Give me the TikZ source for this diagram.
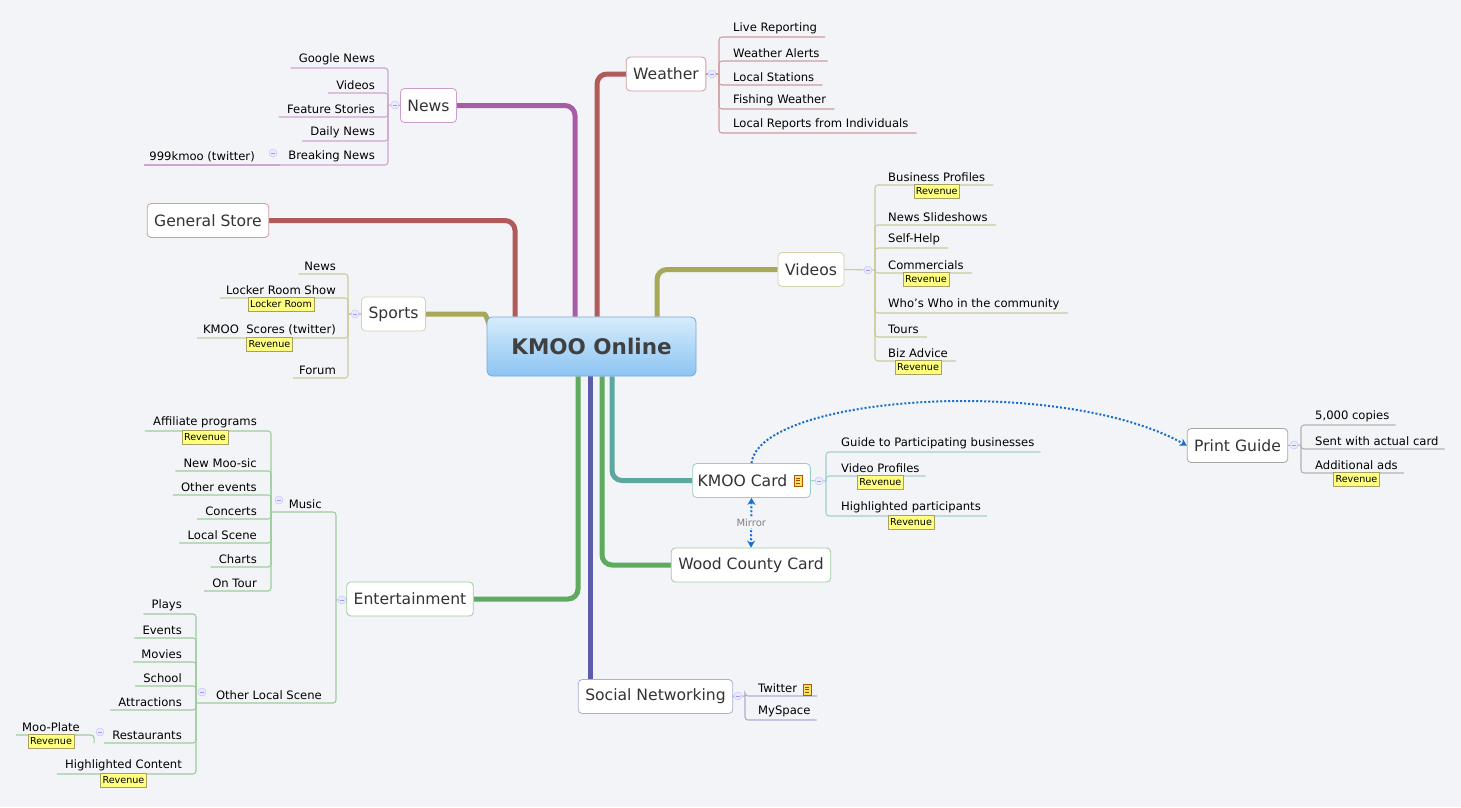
\documentclass[tikz,border=0pt]{standalone}
\usepackage{fontspec}
\setmainfont{DejaVu Sans}
\usetikzlibrary{arrows.meta,positioning,calc}

\definecolor{paper}{HTML}{F3F4F8}
\definecolor{newsc}{HTML}{A85CA8}
\definecolor{wthc}{HTML}{B05A5A}
\definecolor{olvc}{HTML}{A8A858}
\definecolor{cardc}{HTML}{5CA8A0}
\definecolor{grnc}{HTML}{5EAA5E}
\definecolor{socc}{HTML}{5C5CAA}
\definecolor{revfill}{HTML}{FFFF80}
\definecolor{revdraw}{HTML}{A8A060}
\definecolor{mirc}{HTML}{1670CC}
\definecolor{ctop}{HTML}{D6ECFC}
\definecolor{cbot}{HTML}{8CC4F2}
\definecolor{cline}{HTML}{78A8D8}

\newcommand{\itemfont}{\fontsize{11.6}{13}\selectfont}
\newcommand{\topicfont}{\fontsize{15.6}{18}\selectfont}

\pgfdeclarelayer{back}
\pgfdeclarelayer{links}
\pgfsetlayers{back,links,main}

\tikzset{
  topic/.style={draw=#1, fill=white, rounded corners=4pt, line width=0.8pt,
    font=\topicfont, text=black!80, minimum height=34pt, inner xsep=7pt},
  branch/.style={draw=#1, line width=5pt, rounded corners=10pt},
  sub/.style={draw=#1, line width=1.1pt, rounded corners=3pt},
  itr/.style={font=\itemfont, inner xsep=0pt, inner ysep=3pt, anchor=south west},
  itl/.style={font=\itemfont, inner xsep=0pt, inner ysep=3pt, anchor=south east},
  rev/.style={fill=revfill, draw=revdraw, line width=0.5pt, font=\fontsize{9.6}{10}\selectfont,
    inner xsep=2pt, inner ysep=1.5pt, minimum height=14pt, anchor=north},
  fold/.style={circle, draw=blue!25, fill=blue!8, minimum size=8pt, inner sep=0pt,
    path picture={\draw[blue!40, line width=0.6pt]
      ([xshift=-2pt]path picture bounding box.center) -- ([xshift=2pt]path picture bounding box.center);}},
  note/.style={draw=orange!70!black, fill=yellow!70!orange!60, minimum width=8pt,
    minimum height=11pt, inner sep=0pt,
    path picture={\foreach \k in {-2.5,0,2.5}
      \draw[orange!60!black, line width=0.4pt]
      ([xshift=-2pt,yshift=\k pt]path picture bounding box.center) -- ++(4pt,0);}},
  mir/.style={draw=mirc, line width=2pt, dotted, -{Stealth[length=7pt,width=8pt]}}
}

\begin{document}
\begin{tikzpicture}[x=1pt, y=-1pt]

\begin{pgfonlayer}{back}
  \fill[paper] (0,0) rectangle (1461,807);
\end{pgfonlayer}
\useasboundingbox (0,0) rectangle (1461,807);

% central topic
\node[draw=cline, rounded corners=5pt, line width=0.8pt,
  top color=ctop, bottom color=cbot, minimum width=209pt, minimum height=59pt,
  font=\fontsize{21.5}{25}\selectfont\bfseries, text=black!75] (kmoo) at (591.5,346.5) {KMOO Online};

% main topics
\node[topic=newsc!60] (news) at (428.5,105.5) {News};
\node[topic=wthc!60] (wth) at (666,74) {Weather};
\node[topic=wthc!60] (store) at (208,220.5) {General Store};
\node[topic=olvc!50] (sports) at (393.5,314) {Sports};
\node[topic=olvc!50] (videos) at (811,269.5) {Videos};
\node[topic=cardc!60, inner xsep=5pt] (card) at (751.5,480.5) {KMOO Card\hspace*{18pt}};
\node[topic=grnc!60] (wood) at (751,565) {Wood County Card};
\node[topic=grnc!60] (ent) at (410,599) {Entertainment};
\node[topic=socc!50] (social) at (655.5,696.5) {Social Networking};
\node[topic=black!35] (print) at (1237.5,445.5) {Print Guide};
\node[note] (n1) at ([xshift=-13pt]card.east) {};

% branches to the centre
\begin{pgfonlayer}{links}
  \draw[branch=newsc] (news.east) -| ([xshift=-16.5pt]kmoo.north);
  \draw[branch=wthc] (wth.west) -| ([xshift=5.5pt]kmoo.north);
  \draw[branch=wthc] (store.east) -| ([xshift=-76.5pt]kmoo.north);
  \draw[branch=olvc] (sports.east) -- (474,314) to[out=0,in=110] (494,340);
  \draw[branch=olvc] (videos.west) -| ([xshift=65.5pt]kmoo.north);
  \draw[branch=cardc] (card.west) -| ([xshift=20.5pt]kmoo.south);
  \draw[branch=grnc] (wood.west) -| ([xshift=10.5pt]kmoo.south);
  \draw[branch=grnc] (ent.east) -| ([xshift=-13.5pt]kmoo.south);
  \draw[branch=socc] ([xshift=-65.5pt]social.north) -- ([xshift=-1.5pt]kmoo.south);
\end{pgfonlayer}

% News
\coordinate (nh) at (388,105);
\draw[sub=newsc!55] (news.west) -- (nh);
\foreach \n/\y/\t in {1/68/Google News, 2/93/Videos, 3/117/Feature Stories, 4/141/Daily News, 5/165/Breaking News}{
  \node[itl] (ns\n) at (375,\y) {\t};
  \draw[sub=newsc!55] (nh) |- ([xshift=-8pt]ns\n.south west);
}
\node[itl] (tw1) at (255,165) {999kmoo (twitter)};
\draw[sub=newsc!55] ([xshift=-8pt]ns5.south west) -- ([xshift=-5pt]tw1.south west);
\node[fold] (f1) at (395,105) {};
\node[fold] (f2) at (273,153) {};

% Weather
\coordinate (wh) at (719,74);
\draw[sub=wthc!60] (wth.east) -- (wh);
\foreach \n/\y/\t in {1/37/Live Reporting, 2/61/Weather Alerts, 3/85/Local Stations, 4/109/Fishing Weather, 5/133/Local Reports from Individuals}{
  \node[itr] (ws\n) at (733,\y) {\t};
  \draw[sub=wthc!60] (wh) |- ([xshift=8pt]ws\n.south east);
}
\node[fold] (f3) at (712,74) {};

% Videos
\coordinate (vh) at (875,270);
\draw[sub=olvc!60] (videos.east) -- (vh);
\foreach \n/\y/\t in {1/185/Business Profiles, 2/225/News Slideshows, 3/248/Self-Help, 4/273/Commercials, 5/313/Who's Who in the community, 6/337/Tours, 7/361/Biz Advice}{
  \node[itr] (vs\n) at (888,\y) {\t};
  \draw[sub=olvc!60] (vh) |- ([xshift=8pt]vs\n.south east);
}
\node[rev] (r1) at ([yshift=1pt]vs1.south) {Revenue};
\node[rev] (r2) at ([yshift=1pt]vs4.south) {Revenue};
\node[rev] (r3) at ([yshift=1pt]vs7.south) {Revenue};
\node[fold] (f4) at (868,270) {};

% Sports
\coordinate (sh) at (348,314);
\draw[sub=olvc!60] (sports.west) -- (sh);
\foreach \n/\y/\t in {1/274/News, 2/298/Locker Room Show, 3/338/KMOO\ \ Scores (twitter), 4/378/Forum}{
  \node[itl] (ss\n) at (336,\y) {\t};
  \draw[sub=olvc!60] (sh) |- ([xshift=-6pt]ss\n.south west);
}
\node[rev] (r4) at ([yshift=1pt]ss2.south) {Locker Room};
\node[rev] (r5) at ([yshift=1pt]ss3.south) {Revenue};
\node[fold] (f5) at (355,314) {};

% Entertainment
\coordinate (eh) at (336,600);
\coordinate (mh) at (271,512);
\coordinate (oh) at (196,703);
\draw[sub=grnc!60] (ent.west) -- (eh);
\node[itl] (mus) at (322,512) {Music};
\node[itl] (ols) at (322,703) {Other Local Scene};
\draw[sub=grnc!60] (eh) |- (mh);
\draw[sub=grnc!60] (eh) |- (oh);
\foreach \n/\y/\t in {1/431/Affiliate programs, 2/471/New Moo-sic, 3/495/Other events, 4/519/Concerts, 5/543/Local Scene, 6/567/Charts, 7/591/On Tour}{
  \node[itl] (ms\n) at (257,\y) {\t};
  \draw[sub=grnc!60] (mh) |- ([xshift=-8pt]ms\n.south west);
}
\node[rev] (r6) at ([yshift=1pt]ms1.south) {Revenue};
\foreach \n/\y/\t in {1/614/Plays, 2/638/Events, 3/662/Movies, 4/686/School, 5/710/Attractions, 6/743/Restaurants, 7/774/Highlighted Content}{
  \node[itl] (os\n) at (182,\y) {\t};
  \draw[sub=grnc!60] (oh) |- ([xshift=-8pt]os\n.south west);
}
\node[rev] (r7) at ([yshift=1pt]os7.south) {Revenue};
\node[itl] (moo) at (80,735) {Moo-Plate};
\draw[sub=grnc!60] ([xshift=-18pt]os6.south west) |- ([xshift=-6pt]moo.south west);
\node[rev] (r8) at ([yshift=1pt]moo.south) {Revenue};
\node[fold] (f6) at (342,600) {};
\node[fold] (f7) at (279,500) {};
\node[fold] (f8) at (202,692) {};
\node[fold] (f9) at (100,732) {};

% KMOO Card
\coordinate (ch) at (826,481);
\draw[sub=cardc!55] (card.east) -- (ch);
\foreach \n/\y/\t in {1/452/Guide to Participating businesses, 2/476/Video Profiles, 3/516/Highlighted participants}{
  \node[itr] (cs\n) at (841,\y) {\t};
  \draw[sub=cardc!55] (ch) |- ([xshift=6pt]cs\n.south east);
}
\node[rev] (r9) at ([yshift=1pt]cs2.south) {Revenue};
\node[rev] (r10) at ([yshift=1pt]cs3.south) {Revenue};
\node[fold] (f10) at (819,481) {};

% Print Guide
\coordinate (ph) at (1301,445);
\draw[sub=black!30] (print.east) -- (ph);
\foreach \n/\y/\t in {1/425/{5,000 copies}, 2/449/Sent with actual card, 3/473/Additional ads}{
  \node[itr] (ps\n) at (1315,\y) {\t};
  \draw[sub=black!30] (ph) |- ([xshift=6pt]ps\n.south east);
}
\node[rev] (r11) at ([yshift=1pt]ps3.south) {Revenue};
\node[fold] (f11) at (1294,445) {};

% Social Networking
\coordinate (oh2) at (745,696);
\draw[sub=socc!50] (social.east) -- (oh2);
\node[itr] (so1) at (758,696) {Twitter};
\node[itr] (so2) at (758,720) {MySpace};
\draw[sub=socc!50] (oh2) |- ([xshift=20pt]so1.south east);
\draw[sub=socc!50] (oh2) |- ([xshift=6pt]so2.south east);
\node[note] (n2) at ([xshift=10pt,yshift=-1pt]so1.east) {};
\node[fold] (f12) at (738,696) {};

% relations
\draw[mir] (card.north) .. controls (760,395) and (1060,375) .. (print.west);
\draw[mir, {Stealth[length=7pt,width=8pt]}-{Stealth[length=7pt,width=8pt]}] (card.south) -- (wood.north)
  node[midway, fill=paper, inner sep=1pt, font=\fontsize{10}{11}\selectfont, text=black!50] (mlab) {Mirror};

\end{tikzpicture}
\end{document}
